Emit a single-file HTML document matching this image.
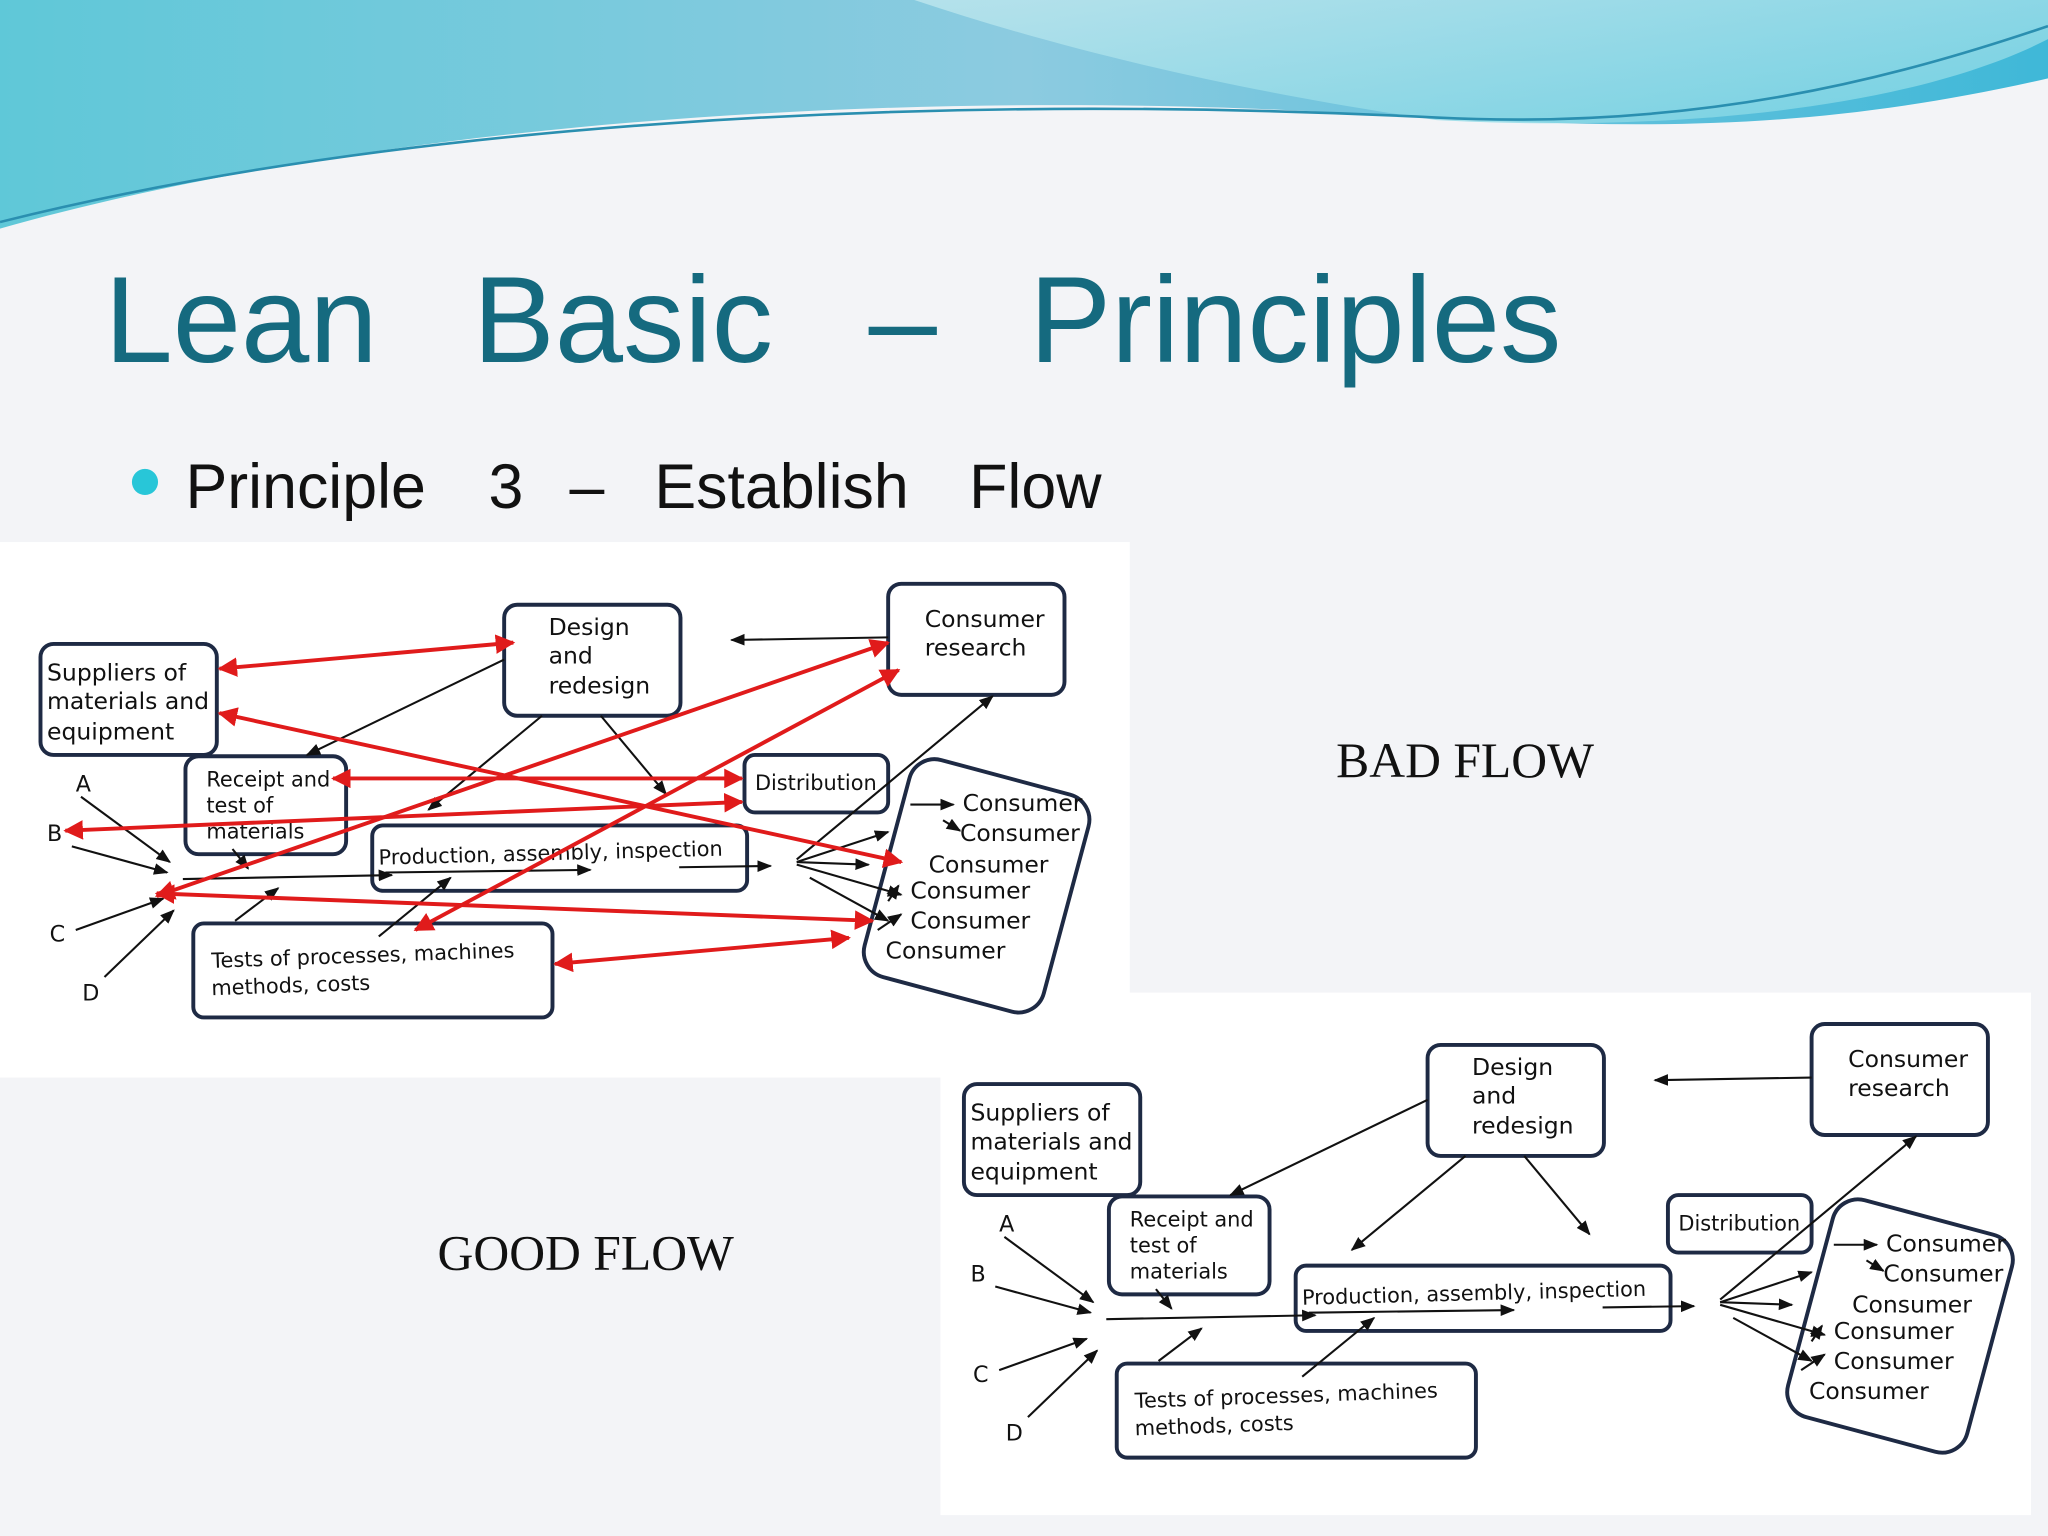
<!DOCTYPE html>
<html><head><meta charset="utf-8"><style>
html,body{margin:0;padding:0;background:#f3f4f7;}
svg{display:block}
</style></head><body>
<svg width="2048" height="1536" viewBox="0 0 1568 1176" xmlns="http://www.w3.org/2000/svg">
<defs>
<linearGradient id="wv" x1="0" y1="0" x2="1" y2="0">
<stop offset="0" stop-color="#5fc8d8"/><stop offset="0.5" stop-color="#8ccbe0"/><stop offset="1" stop-color="#3fb8d8"/>
</linearGradient>
<linearGradient id="wv2" x1="0" y1="0" x2="1" y2="1">
<stop offset="0" stop-color="#bfe7ee"/><stop offset="1" stop-color="#7fd6e4"/>
</linearGradient>
<marker id="ab" viewBox="0 0 10 10" refX="9" refY="5" markerWidth="7" markerHeight="7" orient="auto-start-reverse"><path d="M0,1 L10,5 L0,9 z" fill="#111"/></marker>
<marker id="ar" viewBox="0 0 10 10" refX="9" refY="5" markerWidth="5" markerHeight="5" orient="auto-start-reverse"><path d="M0,0 L10,5 L0,10 z" fill="#e01b1b"/></marker>
<g id="d" font-family="'DejaVu Sans','Liberation Sans',sans-serif" fill="none">
<g stroke="#1e2a44" stroke-width="3">
<rect x="31" y="493" width="135" height="85" rx="10"/>
<rect x="386" y="463" width="135" height="85" rx="10"/>
<rect x="680" y="447" width="135" height="85" rx="10"/>
<rect x="142" y="579" width="123" height="75" rx="10"/>
<rect x="570" y="578" width="110" height="44" rx="8"/>
<rect x="285" y="632" width="287" height="50" rx="8"/>
<rect x="148" y="707" width="275" height="72" rx="8"/>
<rect x="677" y="592" width="142" height="172" rx="20" transform="rotate(15 747 677)"/>
</g>
<g stroke="#111" stroke-width="1.6" marker-end="url(#ab)">
<line x1="680" y1="488" x2="560" y2="490"/>
<line x1="386" y1="505" x2="235" y2="578"/>
<line x1="415" y1="548" x2="328" y2="620"/>
<line x1="460" y1="548" x2="510" y2="608"/>
<line x1="610" y1="658" x2="760" y2="533"/>
<line x1="62" y1="610" x2="130" y2="660"/>
<line x1="55" y1="648" x2="128" y2="668"/>
<line x1="58" y1="712" x2="125" y2="688"/>
<line x1="80" y1="748" x2="133" y2="697"/>
<line x1="140" y1="673" x2="300" y2="670"/>
<line x1="295" y1="668" x2="452" y2="666"/>
<line x1="520" y1="664" x2="590" y2="663"/>
<line x1="178" y1="650" x2="190" y2="665"/>
<line x1="180" y1="705" x2="213" y2="680"/>
<line x1="290" y1="717" x2="345" y2="672"/>
<line x1="610" y1="660" x2="665" y2="662"/>
<line x1="610" y1="660" x2="680" y2="637"/>
<line x1="610" y1="662" x2="690" y2="685"/>
<line x1="620" y1="672" x2="680" y2="705"/>
<line x1="697" y1="616" x2="730" y2="616"/>
<line x1="722" y1="628" x2="735" y2="636"/>
<line x1="680" y1="690" x2="688" y2="678"/>
<line x1="672" y1="712" x2="690" y2="700"/>
</g>
<g fill="#111" font-size="18">
<text x="36" y="521">Suppliers of</text><text x="36" y="543">materials and</text><text x="36" y="566">equipment</text>
<text x="420" y="486">Design</text><text x="420" y="508">and</text><text x="420" y="531">redesign</text>
<text x="708" y="480">Consumer</text><text x="708" y="502">research</text>
<text x="158" y="602" font-size="16">Receipt and</text><text x="158" y="622" font-size="16">test of</text><text x="158" y="642" font-size="16">materials</text>
<text x="578" y="605" font-size="16">Distribution</text>
<text x="290" y="662" font-size="16" transform="rotate(-1.5 290 662)">Production, assembly, inspection</text>
<text x="162" y="741" font-size="16" transform="rotate(-2 162 741)">Tests of processes, machines</text>
<text x="162" y="762" font-size="16" transform="rotate(-2 162 762)">methods, costs</text>
<text x="737" y="621">Consumer</text><text x="735" y="644">Consumer</text><text x="711" y="668">Consumer</text>
<text x="697" y="688">Consumer</text><text x="697" y="711">Consumer</text><text x="678" y="734">Consumer</text>
<text x="58" y="606" font-size="17">A</text><text x="36" y="644" font-size="17">B</text>
<text x="38" y="721" font-size="17">C</text><text x="63" y="766" font-size="17">D</text>
</g>
</g>
</defs>
<rect width="1568" height="1176" fill="#f3f4f7"/>
<path d="M0,0 H1568 V60 C1350,110 1200,95 1000,85 C700,70 300,90 0,175 Z" fill="url(#wv)"/>
<path d="M700,0 H1568 V30 C1450,90 1250,100 1100,92 C950,70 820,40 700,0 Z" fill="url(#wv2)" opacity="0.8"/>
<path d="M0,170 C300,95 700,70 1100,90 C1300,100 1450,60 1568,20" stroke="#2a8fb0" stroke-width="2" fill="none"/>
<g font-family="'Liberation Sans',sans-serif" font-size="94" fill="#156a7f">
<text x="80" y="277">Lean</text><text x="362" y="277">Basic</text><text x="665" y="277">–</text><text x="788" y="277">Principles</text>
</g>
<circle cx="111" cy="369" r="10" fill="#28c6d8"/>
<g font-family="'Liberation Sans',sans-serif" font-size="48" fill="#111">
<text x="142" y="389">Principle</text><text x="374" y="389">3</text><text x="436" y="389">–</text><text x="501" y="389">Establish</text><text x="742" y="389">Flow</text>
</g>
<rect x="0" y="415" width="865" height="410" fill="#fff"/>
<rect x="720" y="760" width="835" height="400" fill="#fff"/>
<use href="#d"/>
<g stroke="#e01b1b" stroke-width="3" marker-start="url(#ar)" marker-end="url(#ar)">
<line x1="168" y1="512" x2="393" y2="492"/>
<line x1="168" y1="546" x2="690" y2="660"/>
<line x1="255" y1="596" x2="568" y2="596"/>
<line x1="50" y1="636" x2="568" y2="614"/>
<line x1="120" y1="686" x2="680" y2="492"/>
<line x1="318" y1="712" x2="688" y2="513"/>
<line x1="120" y1="684" x2="668" y2="705"/>
<line x1="425" y1="738" x2="650" y2="718"/>
</g>
<use href="#d" transform="translate(707,337)"/>
<text x="1023" y="595" font-family="'Liberation Serif',serif" font-size="38" fill="#111">BAD FLOW</text>
<text x="335" y="972" font-family="'Liberation Serif',serif" font-size="38" fill="#111">GOOD FLOW</text>
</svg>
</body></html>
